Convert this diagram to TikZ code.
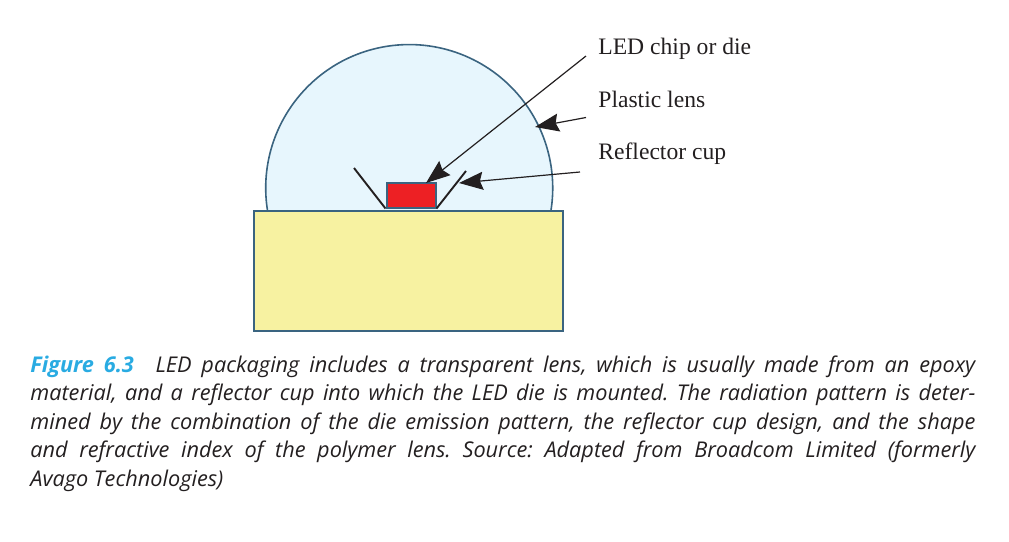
\documentclass[tikz,border=0pt]{standalone}
\usepackage{fontspec}
\usepackage{xcolor}
\setmainfont{Liberation Serif}
\newfontfamily\capfont{Open Sans}
\usetikzlibrary{arrows.meta,positioning}
\definecolor{lensblue}{HTML}{E7F6FD}
\definecolor{edgeblue}{HTML}{3A6480}
\definecolor{baseyellow}{HTML}{F7F2A1}
\definecolor{chipred}{HTML}{ED2024}
\definecolor{figblue}{HTML}{29ABE2}
\definecolor{inkgray}{HTML}{231F20}
\tikzset{
	x=0.5pt,y=-0.5pt,
	labeltext/.style={anchor=base west,inner sep=0pt,font=\fontsize{11.8}{14}\selectfont,text=inkgray},
	pointer/.style={draw=inkgray,line width=0.6pt,-{Stealth[length=12pt,width=9pt,inset=1.5pt]}},
	cupwall/.style={draw=inkgray,line width=0.95pt},
}
\begin{document}
\begin{tikzpicture}
		\useasboundingbox (0,0) rectangle (1009,542);
		\draw [edgeblue,fill=lensblue,line width=0.8pt] (267.5,210.5) arc (171:369:143.5);
		\node [draw=edgeblue,fill=chipred,line width=1pt,minimum width=24.5pt,minimum height=12.5pt,inner sep=0pt] (chip) at (411,195) {};
		\node [draw=edgeblue,fill=baseyellow,line width=0.8pt,minimum width=154.5pt,minimum height=60pt,inner sep=0pt] (base) at (408.5,270.8) {};
		\coordinate (cupleft) at (354,168);
		\coordinate (cupright) at (466,171);
		\draw [cupwall] (cupleft)--(chip.south west);
		\draw [cupwall] (cupright)--(chip.south east);
		\node [labeltext] (led) at (598,54.5) {LED chip or die};
		\node [labeltext] (plastic) at (598,107) {Plastic lens};
		\node [labeltext] (reflector) at (598,159.5) {Reflector cup};
		\coordinate (ledstart) at (586,56);
		\coordinate (lensstart) at (586,117.5);
		\coordinate (cupstart) at (580,172);
		\coordinate (lensend) at (535,127);
		\coordinate (cupend) at (459,183);
		\draw [pointer] (ledstart)--(426,183);
		\draw [pointer] (lensstart)--(lensend);
		\draw [pointer] (cupstart)--(cupend);
		\node [anchor=north west,inner sep=0pt,text width=472.5pt,align=justify,font=\capfont\itshape\frenchspacing\fontsize{10.85}{14.25}\selectfont,text=inkgray] (caption) at (30,355) {{\color{figblue}\bfseries Figure 6.3}\quad LED packaging includes a transparent lens, which is usually made from an epoxy\linebreak
		material, and a reflector cup into which the LED die is mounted. The radiation pattern is deter-\linebreak
		mined by the combination of the die emission pattern, the reflector cup design, and the shape\linebreak
		and refractive index of the polymer lens. Source: Adapted from Broadcom Limited (formerly\linebreak
		Avago Technologies)};
		\end{tikzpicture}
\end{document}
